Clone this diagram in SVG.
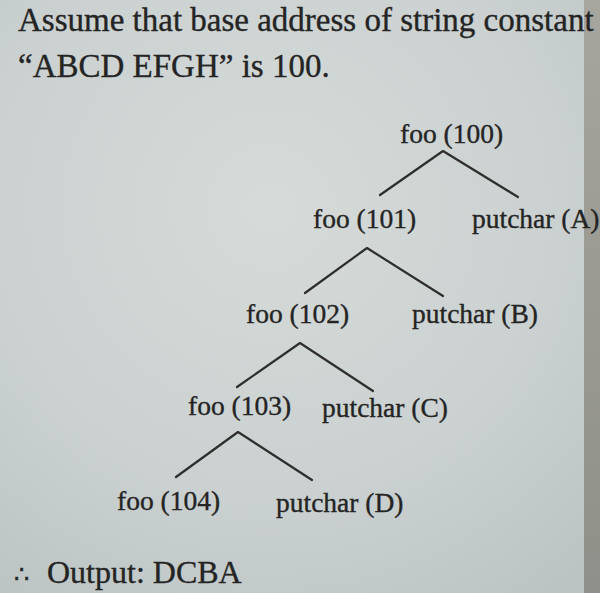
<svg xmlns="http://www.w3.org/2000/svg" width="600" height="593" viewBox="0 0 600 593">
  <defs>
    <radialGradient id="paper" cx="0.45" cy="0.35" r="0.8">
      <stop offset="0" stop-color="#d6dbd9"/>
      <stop offset="0.6" stop-color="#cad1d0"/>
      <stop offset="1" stop-color="#bcc4c3"/>
    </radialGradient>
    <linearGradient id="strip" x1="0" y1="0" x2="0" y2="1">
      <stop offset="0" stop-color="#a6a69f"/>
      <stop offset="0.5" stop-color="#9a9a93"/>
      <stop offset="1" stop-color="#90908a"/>
    </linearGradient>
    <style>
      text { font-family: "Liberation Serif", "Times New Roman", serif; fill: #242424; stroke: #242424; stroke-width: 0.35px; }
      .hdr { font-size: 33px; }
      .node { font-size: 27.5px; }
      .out { font-size: 32px; }
      .dots { font-size: 24px; }
      .edge { stroke: #2e2e2e; stroke-width: 2.2; fill: none; stroke-linecap: round; stroke-linejoin: round; }
    </style>
  </defs>

  <rect x="0" y="0" width="600" height="593" fill="url(#paper)"/>
  <rect x="584" y="0" width="16" height="593" fill="url(#strip)"/>

  <g id="header">
    <text class="hdr" x="18" y="31">Assume that base address of string constant</text>
    <text class="hdr" x="18" y="77">“ABCD EFGH” is 100.</text>
  </g>

  <g id="connectors">
    <polyline class="edge" points="380,195 443,151 518,197"/>
    <polyline class="edge" points="305,293 367,248 443,296"/>
    <polyline class="edge" points="237,387 300,343 373,391"/>
    <polyline class="edge" points="176,477 238,432 312,480"/>
  </g>

  <g id="foo100"><text class="node" x="400" y="143">foo (100)</text></g>
  <g id="foo101"><text class="node" x="313" y="228">foo (101)</text></g>
  <g id="putcharA"><text class="node" x="472" y="228">putchar (A)</text></g>
  <g id="foo102"><text class="node" x="246" y="323">foo (102)</text></g>
  <g id="putcharB"><text class="node" x="412" y="323">putchar (B)</text></g>
  <g id="foo103"><text class="node" x="188" y="415">foo (103)</text></g>
  <g id="putcharC"><text class="node" x="322" y="417">putchar (C)</text></g>
  <g id="foo104"><text class="node" x="117" y="510">foo (104)</text></g>
  <g id="putcharD"><text class="node" x="276" y="512">putchar (D)</text></g>

  <g id="output">
    <text class="out" x="14" y="583"><tspan class="dots" font-size="24">∴</tspan><tspan x="47">Output: DCBA</tspan></text>
  </g>
</svg>
